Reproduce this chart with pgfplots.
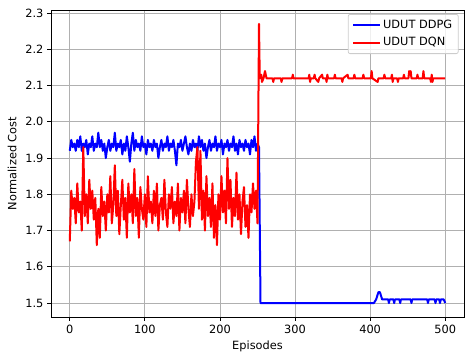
\documentclass[border=0pt]{standalone}
\usepackage{fontspec}
\setmainfont{DejaVu Sans}
\usepackage{pgfplots}
\pgfplotsset{compat=1.18}
\definecolor{gridgray}{RGB}{176,176,176}
\definecolor{legedge}{RGB}{204,204,204}
\newcommand{\ff}{\fontsize{11.4}{13}\selectfont}
\begin{document}
\ff
\begin{tikzpicture}
\begin{axis}[name=ax,
  scale only axis, width=413bp, height=307bp,
  xmin=-25, xmax=525, ymin=1.4615, ymax=2.3085,
  xtick={0,100,...,500}, ytick={1.5,1.6,...,2.3},
  /pgf/number format/assume math mode=true,
  yticklabel style={/pgf/number format/.cd, fixed, fixed zerofill, precision=1},
  xticklabel style={/pgf/number format/.cd, fixed, precision=0},
  tick label style={font=\ff},
  label style={font=\ff},
  grid=major, grid style={color=gridgray, line width=0.8bp},
  tick align=outside, tick pos=left, major tick length=3.6bp,
  every tick/.style={black, line width=0.8bp},
  axis line style={line width=0.8bp},
  xlabel={Episodes}, ylabel={Normalized Cost},
  xlabel style={yshift=0bp}, ylabel style={yshift=1bp},
  legend style={at={(0.987,0.987)}, anchor=north east, draw=legedge, line width=0.8bp, rounded corners=2bp, fill=white, fill opacity=0.8, text opacity=1, font=\ff, inner xsep=4bp, inner ysep=4bp, row sep=3bp},
  legend cell align=left,
  legend image code/.code={\draw[#1] (0bp,0bp) -- (27bp,0bp);},
]
\addplot[blue, line width=2bp, line join=round] coordinates {
(0,1.92)(2,1.95)(4,1.93)(6,1.94)(8,1.92)(10,1.95)(12,1.93)(14,1.96)(16,1.92)(18,1.94)
(20,1.93)(22,1.95)(24,1.91)(26,1.94)(28,1.93)(30,1.96)(32,1.92)(34,1.94)(36,1.93)(38,1.97)
(40,1.93)(42,1.95)(44,1.92)(46,1.94)(48,1.90)(50,1.93)(52,1.95)(54,1.92)(56,1.94)(58,1.93)
(60,1.97)(62,1.92)(64,1.94)(66,1.93)(68,1.95)(70,1.91)(72,1.94)(74,1.92)(76,1.96)(78,1.93)
(80,1.89)(82,1.94)(84,1.97)(86,1.92)(88,1.95)(90,1.93)(92,1.94)(94,1.92)(96,1.96)(98,1.93)
(100,1.94)(102,1.91)(104,1.95)(106,1.93)(108,1.94)(110,1.92)(112,1.95)(114,1.93)(116,1.94)(118,1.90)
(120,1.93)(122,1.95)(124,1.92)(126,1.94)(128,1.93)(130,1.96)(132,1.92)(134,1.94)(136,1.93)(138,1.95)
(140,1.92)(142,1.88)(144,1.94)(146,1.93)(148,1.95)(150,1.92)(152,1.94)(154,1.96)(156,1.93)(158,1.91)
(160,1.94)(162,1.92)(164,1.95)(166,1.93)(168,1.94)(170,1.92)(172,1.96)(174,1.93)(176,1.95)(178,1.92)
(180,1.94)(182,1.90)(184,1.93)(186,1.95)(188,1.92)(190,1.94)(192,1.93)(194,1.96)(196,1.92)(198,1.94)
(200,1.93)(202,1.95)(204,1.91)(206,1.94)(208,1.93)(210,1.95)(212,1.92)(214,1.94)(216,1.93)(218,1.96)
(220,1.92)(222,1.94)(224,1.91)(226,1.95)(228,1.93)(230,1.94)(232,1.92)(234,1.95)(236,1.93)(238,1.94)
(240,1.91)(242,1.95)(244,1.93)(246,1.96)(248,1.92)(250,1.94)(252,1.93)(254,1.50)
(405,1.50)(408,1.51)(411,1.53)(413,1.53)(416,1.51)(424,1.51)(425,1.50)(426,1.51)
(431,1.51)(432,1.50)(433,1.51)(439,1.51)(440,1.50)(441,1.51)(454,1.51)(455,1.50)(456,1.51)
(476,1.51)(477,1.50)(478,1.51)(486,1.51)(487,1.50)(488,1.51)(492,1.51)(493,1.50)(494,1.51)
(498,1.51)(500,1.50)
};
\addlegendentry{UDUT DDPG}
\addplot[red, line width=2bp, line join=round] coordinates {
(0,1.67)(2,1.81)(4,1.76)(6,1.79)(8,1.72)(10,1.83)(12,1.75)(14,1.78)(16,1.70)(18,1.93)
(20,1.74)(22,1.80)(24,1.72)(26,1.84)(28,1.76)(30,1.81)(32,1.73)(34,1.79)(36,1.66)(38,1.76)
(40,1.68)(42,1.82)(44,1.74)(46,1.78)(48,1.70)(50,1.80)(52,1.75)(54,1.85)(56,1.72)(58,1.77)
(60,1.88)(62,1.74)(64,1.81)(66,1.69)(68,1.77)(70,1.84)(72,1.73)(74,1.79)(76,1.68)(78,1.83)
(80,1.75)(82,1.80)(84,1.72)(86,1.87)(88,1.74)(90,1.79)(92,1.68)(94,1.82)(96,1.76)(98,1.73)
(100,1.80)(102,1.71)(104,1.85)(106,1.75)(108,1.78)(110,1.72)(112,1.81)(114,1.74)(116,1.83)(118,1.70)
(120,1.77)(122,1.79)(124,1.73)(126,1.84)(128,1.75)(130,1.71)(132,1.80)(134,1.76)(136,1.82)(138,1.72)
(140,1.78)(142,1.74)(144,1.83)(146,1.70)(148,1.79)(150,1.75)(152,1.81)(154,1.72)(156,1.84)(158,1.76)
(160,1.71)(162,1.80)(164,1.74)(166,1.78)(168,1.89)(170,1.93)(172,1.76)(174,1.92)(176,1.73)(178,1.81)
(180,1.70)(182,1.85)(184,1.74)(186,1.79)(188,1.71)(190,1.83)(192,1.68)(194,1.77)(196,1.66)(198,1.80)
(200,1.73)(202,1.85)(204,1.75)(206,1.81)(208,1.72)(210,1.90)(212,1.76)(214,1.84)(216,1.71)(218,1.79)
(220,1.74)(222,1.86)(224,1.73)(226,1.80)(228,1.69)(230,1.78)(232,1.82)(234,1.71)(236,1.77)(238,1.68)
(240,1.80)(242,1.75)(244,1.83)(246,1.76)(248,1.81)(250,1.72)(252,2.27)
(253,2.12)(255,2.13)(256,2.11)(258,2.12)(260,2.14)(262,2.12)(270,2.12)(271,2.11)(272,2.12)
(281,2.12)(282,2.11)(283,2.12)(296,2.12)(297,2.13)(298,2.12)(318,2.12)(319,2.13)(320,2.11)(321,2.12)
(325,2.12)(326,2.13)(327,2.12)(331,2.11)(332,2.12)(336,2.13)(337,2.12)(341,2.12)(342,2.11)(343,2.13)(344,2.12)
(352,2.12)(353,2.13)(354,2.12)(362,2.12)(363,2.11)(364,2.12)(370,2.13)(371,2.12)(378,2.12)(379,2.13)(380,2.12)
(390,2.12)(391,2.13)(392,2.12)(401,2.12)(402,2.14)(403,2.12)(410,2.11)(411,2.12)(418,2.12)(419,2.13)(420,2.12)
(428,2.12)(429,2.13)(430,2.11)(431,2.12)(436,2.12)(437,2.11)(438,2.12)(444,2.12)(445,2.13)(446,2.12)
(451,2.12)(452,2.14)(453,2.13)(454,2.14)(455,2.12)(462,2.12)(463,2.13)(464,2.12)(470,2.12)(471,2.14)(472,2.12)
(480,2.12)(481,2.11)(482,2.13)(483,2.11)(484,2.12)(490,2.12)(500,2.12)
};
\addlegendentry{UDUT DQN}
\end{axis}
\pgfresetboundingbox
\path ([shift={(-51bp,-45bp)}]ax.south west) rectangle ([shift={(10bp,10bp)}]ax.north east);
\end{tikzpicture}
\end{document}
